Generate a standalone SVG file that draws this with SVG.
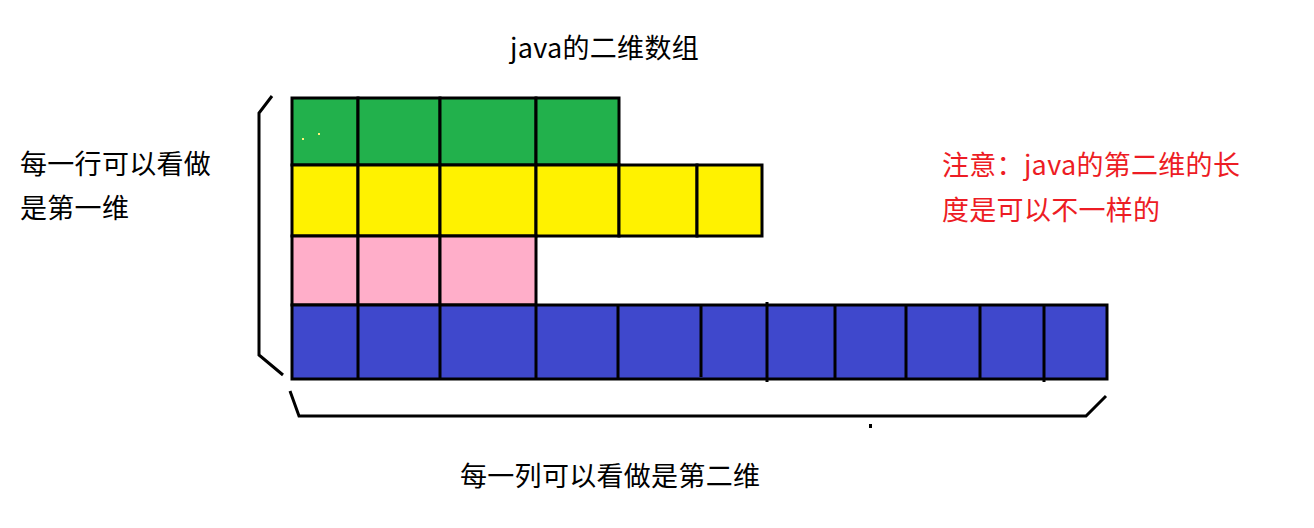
<svg xmlns="http://www.w3.org/2000/svg" width="1314" height="528" viewBox="0 0 1314 528">
<style>
  .t { font-family: "Microsoft YaHei", "Noto Sans CJK SC", "Noto Sans", sans-serif; font-size: 27px; letter-spacing: 0.3px; fill: #000; }
  .red { fill: #ed1c24; }
  .cell { stroke: #000; stroke-width: 3; }
  .g { fill: #22b14c; }
  .y { fill: #fff200; }
  .p { fill: #ffaec9; }
  .b { fill: #3f48cc; }
  .ln { stroke: #000; stroke-width: 3; fill: none; }
</style>
<rect width="1314" height="528" fill="#fff"/>
<g id="title"><text class="t" x="510" y="58">java的二维数组</text></g>
<g id="row-label"><text class="t" x="20" y="174">每一行可以看做</text><text class="t" x="20" y="218">是第一维</text></g>
<g id="note"><text class="t red" x="942" y="175">注意：java的第二维的长</text><text class="t red" x="942" y="220">度是可以不一样的</text></g>
<g id="col-label"><text class="t" x="460" y="486">每一列可以看做是第二维</text></g>
<g id="row0">
  <rect class="cell g" x="292" y="98" width="66" height="67"/>
  <rect class="cell g" x="358" y="98" width="82" height="67"/>
  <rect class="cell g" x="440" y="98" width="96" height="67"/>
  <rect class="cell g" x="536" y="98" width="83" height="67"/>
  <rect x="302" y="138" width="2" height="2" fill="#fff27a"/>
  <rect x="318" y="133" width="2" height="2" fill="#fff27a"/>
</g>
<g id="row1">
  <rect class="cell y" x="292" y="165" width="66" height="71"/>
  <rect class="cell y" x="358" y="165" width="82" height="71"/>
  <rect class="cell y" x="440" y="165" width="96" height="71"/>
  <rect class="cell y" x="536" y="165" width="83" height="71"/>
  <rect class="cell y" x="619" y="165" width="78" height="71"/>
  <rect class="cell y" x="697" y="165" width="65" height="71"/>
</g>
<g id="row2">
  <rect class="cell p" x="292" y="236" width="66" height="69"/>
  <rect class="cell p" x="358" y="236" width="82" height="69"/>
  <rect class="cell p" x="440" y="236" width="96" height="69"/>
</g>
<g id="row3">
  <rect class="cell b" x="292" y="305" width="815" height="74"/>
  <path class="ln" d="M358 305V379M440 305V379M536 305V379M618 305V379M701 305V377M767 302V382M835 305V379M906 305V379M980 305V379M1044 305V382"/>
</g>
<g id="connectors">
  <path class="ln" d="M272 96L259 113V355L283 375"/>
  <path class="ln" d="M290 391L299 416H1086L1106 396"/>
  <rect x="869" y="424" width="3" height="4" fill="#000"/>
</g>
</svg>
